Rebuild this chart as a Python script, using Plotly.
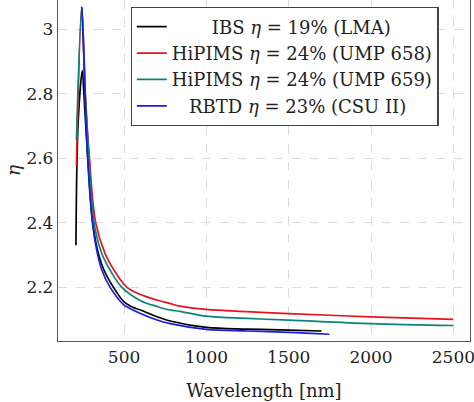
import plotly.graph_objects as go

# ---- data ----
ibs_wl = [208, 222, 247, 256, 280, 310, 344, 378, 435, 500, 547, 600, 700, 780, 1000, 1250, 1500, 1700]
ibs_n = [2.330, 2.718, 2.871, 2.800, 2.600, 2.400, 2.304, 2.253, 2.200, 2.154, 2.139, 2.129, 2.108, 2.095, 2.075, 2.070, 2.067, 2.064]

ump658_wl = [211, 243, 258, 265, 290, 328, 385, 439, 516, 600, 700, 780, 840, 1000, 1250, 1500, 2000, 2500]
ump658_n = [2.578, 3.068, 2.904, 2.800, 2.600, 2.400, 2.304, 2.253, 2.200, 2.177, 2.160, 2.149, 2.141, 2.131, 2.124, 2.118, 2.108, 2.100]

ump659_wl = [211, 243, 257, 264, 287, 318, 365, 415, 486, 600, 700, 780, 840, 1000, 1250, 1500, 2000, 2500]
ump659_n = [2.656, 3.068, 2.904, 2.800, 2.600, 2.400, 2.304, 2.253, 2.200, 2.158, 2.140, 2.129, 2.125, 2.110, 2.103, 2.098, 2.087, 2.081]

csu_wl = [243, 257, 263, 279, 308, 334, 365, 415, 500, 516, 600, 700, 780, 1000, 1250, 1500, 1747]
csu_n = [3.068, 2.904, 2.800, 2.600, 2.400, 2.315, 2.253, 2.200, 2.144, 2.139, 2.118, 2.098, 2.087, 2.069, 2.064, 2.060, 2.054]

names = [
    "IBS <i>η</i> = 19% (LMA)",
    "HiPIMS <i>η</i> = 24% (UMP 658)",
    "HiPIMS <i>η</i> = 24% (UMP 659)",
    "RBTD <i>η</i> = 23% (CSU II)",
]
pads = [7, 0, 0, 3]
colors = ["#000000", "#e8141b", "#0a8478", "#1c1ce0"]
series = [(ibs_wl, ibs_n), (ump658_wl, ump658_n), (ump659_wl, ump659_n), (csu_wl, csu_n)]

FONT = "DejaVu Serif"

fig = go.Figure()
for (wl, n), name, pad, c in zip(series, names, pads, colors):
    fig.add_trace(go.Scatter(
        x=wl, y=n, mode="lines", name="\u00a0" * pad + name,
        line=dict(color=c, width=1.7, shape="spline", smoothing=1.0),
    ))

axis_common = dict(
    showline=True, linecolor="#555555", linewidth=1.3, mirror=True,
    showgrid=True, gridcolor="#dcdcdc", griddash="dash", gridwidth=1,
    zeroline=False, ticks="", ticklabeloverflow="allow",
    tickfont=dict(family=FONT, size=17, color="#222"),
)

fig.update_layout(
    width=474, height=402,
    margin=dict(l=58, r=4, t=0, b=61),
    paper_bgcolor="white", plot_bgcolor="white",
    font=dict(family=FONT, size=18, color="#222"),
    xaxis=dict(range=[99, 2601], tickvals=[500, 1000, 1500, 2000, 2500],
               title=dict(text="Wavelength [nm]", font=dict(family=FONT, size=18), standoff=18),
               **axis_common),
    yaxis=dict(range=[2.033, 3.09], tickvals=[2.2, 2.4, 2.6, 2.8, 3.0],
               ticktext=["2.2", "2.4", "2.6", "2.8", "3"],
               title=dict(text="<i>η</i>", font=dict(family=FONT, size=19), standoff=0),
               **axis_common),
    legend=dict(x=0.176, y=0.979, xanchor="left", yanchor="top",
                bgcolor="white", bordercolor="#444", borderwidth=1.3,
                font=dict(family=FONT, size=18, color="#222"),
                tracegroupgap=0, itemwidth=30),
    showlegend=True,
)

fig.write_html("out.html")
